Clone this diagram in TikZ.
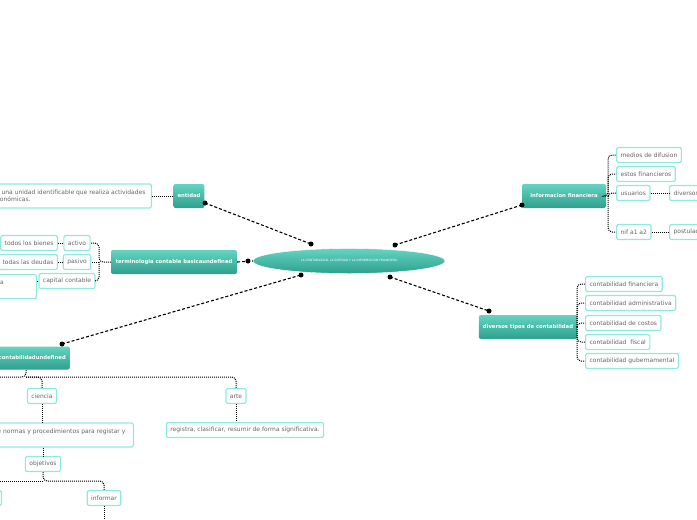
\documentclass[tikz,border=0pt]{standalone}
\usepackage{fontspec}
\setmainfont{DejaVu Sans}
\usetikzlibrary{shapes.geometric}
\definecolor{tq}{HTML}{3CC9B3}
\definecolor{tqd}{HTML}{2FA08D}
\definecolor{lt}{HTML}{8DEBDD}
\begin{document}
\begin{tikzpicture}[x=1pt,y=-1pt,
 mainb/.style={rounded corners=2pt,top color=tq!80!white,bottom color=tqd,text=white,font=\fontsize{5.3}{6}\selectfont\bfseries,minimum height=24pt,inner xsep=4pt},
 leaf/.style={draw=lt,line width=1.2pt,fill=white,rounded corners=2pt,text=black!60,font=\fontsize{6}{7.5}\selectfont,minimum height=15pt,inner xsep=4pt},
 big/.style={densely dashed,line width=1.1pt},
 sm/.style={densely dotted,line width=1pt,rounded corners=4pt},
 dot/.style={circle,fill=black,inner sep=0pt,minimum size=5pt}]
\useasboundingbox (0,0) rectangle (697,520);
\node[ellipse,top color=tq!80!white,bottom color=tqd,draw=white,minimum width=192pt,minimum height=25pt,text=white,font=\fontsize{3}{4}\selectfont] (c) at (349,261) {LA CONTABILIDAD, LA ENTIDAD Y LA INFORMACION FINANCIERA};
\node[mainb] (ent) at (189,196) {entidad};
\node[leaf,minimum height=24pt,align=left,anchor=east,inner xsep=6pt] (entd) at (152,196) {es una unidad identificable que realiza actividades\\económicas.};
\node[mainb,minimum width=126pt] (term) at (174,262) {terminologia contable basicaundefined};
\node[leaf] (act) at (77,243) {activo};
\node[leaf] (pas) at (77,262) {pasivo};
\node[leaf] (cap) at (67,281) {capital contable};
\node[leaf,anchor=east] (bie) at (58,243) {todos los bienes};
\node[leaf,anchor=east] (deu) at (58,262) {todas las deudas};
\node[leaf,anchor=north east,minimum height=24pt,text width=50pt,align=left,text depth=8pt] (la) at (37,274) {\hspace*{16pt}la};
\node[mainb,minimum width=84pt] (inf) at (564,196) {informacion financiera};
\node[leaf,anchor=west] (med) at (616,155) {medios de difusion};
\node[leaf,anchor=west] (est) at (616,174) {estos financieros};
\node[leaf,anchor=west] (usu) at (616,193) {usuarios};
\node[leaf,anchor=west] (div) at (669,193) {diversos};
\node[leaf,anchor=west] (nif) at (616,232) {nif a1 a2};
\node[leaf,anchor=west] (pos) at (669,232) {postulados};
\node[mainb,minimum width=98pt] (tip) at (528,327) {diversos tipos de contabilidad};
\foreach \n/\y/\t in {t1/284/contabilidad financiera,t2/303/contabilidad administrativa,t3/323/contabilidad de costos,t4/342/contabilidad\ \ fiscal,t5/361/contabilidad gubernamental}
 \node[leaf,anchor=west] (\n) at (585,\y) {\t};
\node[mainb,anchor=east,minimum height=23pt] (cont) at (70,358) {la contabilidadundefined};
\node[leaf] (cie) at (42,396) {ciencia};
\node[leaf] (art) at (236,396) {arte};
\node[leaf,anchor=east,minimum height=24pt,align=left,text depth=8pt,inner xsep=8pt] (cied) at (134,435) {conjunto de normas y procedimientos para registar y};
\node[leaf] (artd) at (245,430) {registra, clasificar, resumir de forma significativa.};
\node[leaf] (obj) at (43,464) {objetivos};
\node[leaf,anchor=east] (ctl) at (2,498) {controlar};
\node[leaf] (info) at (104,498) {informar};
\coordinate (infb) at (104,520);
% main connectors
\draw[big] (205,203) -- (311,244);
\node[dot] at (205,203) {}; \node[dot] at (311,244) {};
\draw[big] (term.east) -- (c.west); \node[dot] at (248,261) {};
\draw[big] (62,344) -- (301,275); \node[dot] at (62,344) {}; \node[dot] at (301,275) {};
\draw[big] (395,245) -- (522,205); \node[dot] at (395,245) {}; \node[dot] at (522,205) {};
\draw[big] (390,277) -- (489,311); \node[dot] at (390,277) {}; \node[dot] at (489,311) {};
% small connectors
\draw[sm] (ent.west) -- (entd.east);
\draw[sm] (term.west) -- (99,262) |- (act.east);
\draw[sm] (99,262) -- (pas.east);
\draw[sm] (99,262) |- (cap.east);
\draw[sm] (act.west) -- (bie.east); \draw[sm] (pas.west) -- (deu.east); \draw[sm] (cap.west) -- (la.east |- cap);
\draw[sm] (inf.east) -- (608,196) |- (med.west);
\draw[sm] (608,196) |- (est.west);
\draw[sm] (608,196) |- (usu.west);
\draw[sm] (608,196) |- (nif.west);
\draw[sm] (usu.east) -- (div.west); \draw[sm] (nif.east) -- (pos.west);
\foreach \n in {t1,t2,t3,t4,t5} \draw[sm] (577,327) |- (\n.west);
\draw[sm] (26,370) -- (26,377) -- (0,377);
\draw[sm] (26,377) -| (cie.north);
\draw[sm] (26,377) -| (art.north);
\draw[sm] (cie.south) -- (cied.north -| cie);
\draw[sm] (art.south) -- (artd.north -| art);
\draw[sm] (cied.south -| obj) -- (obj.north);
\draw[sm] (obj.south) -- (43,481) -| (info.north);
\draw[sm] (43,481) -- (0,481);
\draw[sm] (info.south) -- (infb);
\end{tikzpicture}
\end{document}
